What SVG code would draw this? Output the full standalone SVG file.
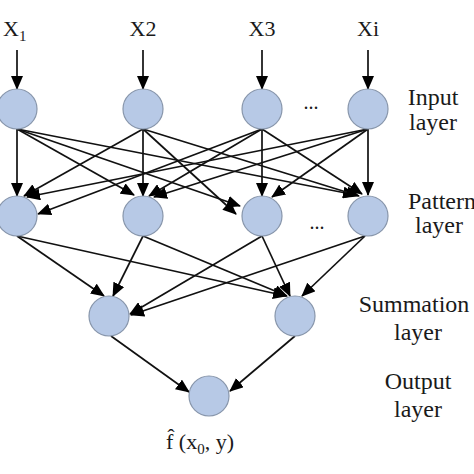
<svg xmlns="http://www.w3.org/2000/svg" width="474" height="474" viewBox="0 0 474 474">
<style>
.node{fill:#b7c9e6;stroke:#8896ab;stroke-width:1.2}
.lbl{font-family:"Liberation Serif","Times New Roman",serif;fill:#1a1a1a}
.edge{stroke:#111;stroke-width:1.7;fill:none;marker-end:url(#ah)}
</style>
<defs>
<marker id="ah" markerUnits="userSpaceOnUse" markerWidth="14" markerHeight="12" refX="13" refY="6" orient="auto">
<path d="M0,0 L14,6 L0,12 z" fill="#000"/>
</marker>
</defs>
<rect width="474" height="474" fill="#fff"/>
<g id="connectors">
<line class="edge" x1="17" y1="50" x2="17" y2="89"/>
<line class="edge" x1="143" y1="50" x2="143" y2="89"/>
<line class="edge" x1="262" y1="50" x2="262" y2="89"/>
<line class="edge" x1="368" y1="50" x2="368" y2="89"/>
<line class="edge" x1="17" y1="129" x2="17" y2="196"/>
<line class="edge" x1="17" y1="129" x2="134" y2="195"/>
<line class="edge" x1="17" y1="129" x2="240" y2="206"/>
<line class="edge" x1="17" y1="129" x2="356" y2="195"/>
<line class="edge" x1="143" y1="129" x2="24" y2="196"/>
<line class="edge" x1="143" y1="129" x2="143" y2="196"/>
<line class="edge" x1="143" y1="129" x2="236" y2="214"/>
<line class="edge" x1="143" y1="129" x2="359" y2="196"/>
<line class="edge" x1="262" y1="129" x2="38" y2="214"/>
<line class="edge" x1="262" y1="129" x2="149" y2="196"/>
<line class="edge" x1="262" y1="129" x2="262" y2="196"/>
<line class="edge" x1="262" y1="129" x2="362" y2="194"/>
<line class="edge" x1="368" y1="129" x2="27" y2="197"/>
<line class="edge" x1="368" y1="129" x2="154" y2="197"/>
<line class="edge" x1="368" y1="129" x2="272" y2="197"/>
<line class="edge" x1="368" y1="129" x2="368" y2="195"/>
<line class="edge" x1="17" y1="236" x2="104" y2="296"/>
<line class="edge" x1="17" y1="236" x2="286" y2="296"/>
<line class="edge" x1="143" y1="236" x2="113" y2="296"/>
<line class="edge" x1="143" y1="236" x2="287" y2="296"/>
<line class="edge" x1="262" y1="236" x2="130" y2="314"/>
<line class="edge" x1="262" y1="236" x2="290" y2="296"/>
<line class="edge" x1="365" y1="236" x2="131" y2="315"/>
<line class="edge" x1="365" y1="236" x2="302" y2="296"/>
<line class="edge" x1="111" y1="336" x2="189" y2="392"/>
<line class="edge" x1="295" y1="336" x2="230" y2="391"/>
</g>
<g id="input-labels" class="lbl" font-size="22">
<text x="3" y="36">X<tspan font-size="15" dy="5">1</tspan></text>
<text x="143" y="36" text-anchor="middle">X2</text>
<text x="262" y="36" text-anchor="middle">X3</text>
<text x="368" y="36" text-anchor="middle">Xi</text>
</g>
<g id="i1"><circle class="node" cx="17" cy="109" r="20"/></g>
<g id="i2"><circle class="node" cx="143" cy="109" r="20"/></g>
<g id="i3"><circle class="node" cx="262" cy="109" r="20"/></g>
<g id="i4"><circle class="node" cx="368" cy="109" r="20"/></g>
<g id="p1"><circle class="node" cx="17" cy="216" r="20"/></g>
<g id="p2"><circle class="node" cx="143" cy="216" r="20"/></g>
<g id="p3"><circle class="node" cx="262" cy="216" r="20"/></g>
<g id="p4"><circle class="node" cx="368" cy="216" r="20"/></g>
<g id="s1"><circle class="node" cx="109" cy="316" r="20"/></g>
<g id="s2"><circle class="node" cx="295" cy="316" r="20"/></g>
<g id="out"><circle class="node" cx="209" cy="396" r="20"/></g>
<g id="dots" class="lbl" font-size="20">
<text x="311" y="109" text-anchor="middle">...</text>
<text x="317" y="229" text-anchor="middle">...</text>
</g>
<g id="layer-labels" class="lbl" font-size="24" text-anchor="middle">
<text x="433" y="105">Input</text>
<text x="433" y="130">layer</text>
<text x="408" y="209" text-anchor="start">Pattern</text>
<text x="439" y="233">layer</text>
<text x="414" y="312">Summation</text>
<text x="418" y="340">layer</text>
<text x="418" y="389">Output</text>
<text x="418" y="417">layer</text>
</g>
<g id="output-label" class="lbl" font-size="22">
<text x="166" y="449">f̂ (x<tspan font-size="15" dy="5">0</tspan><tspan dy="-5">, y)</tspan></text>
</g>
</svg>
